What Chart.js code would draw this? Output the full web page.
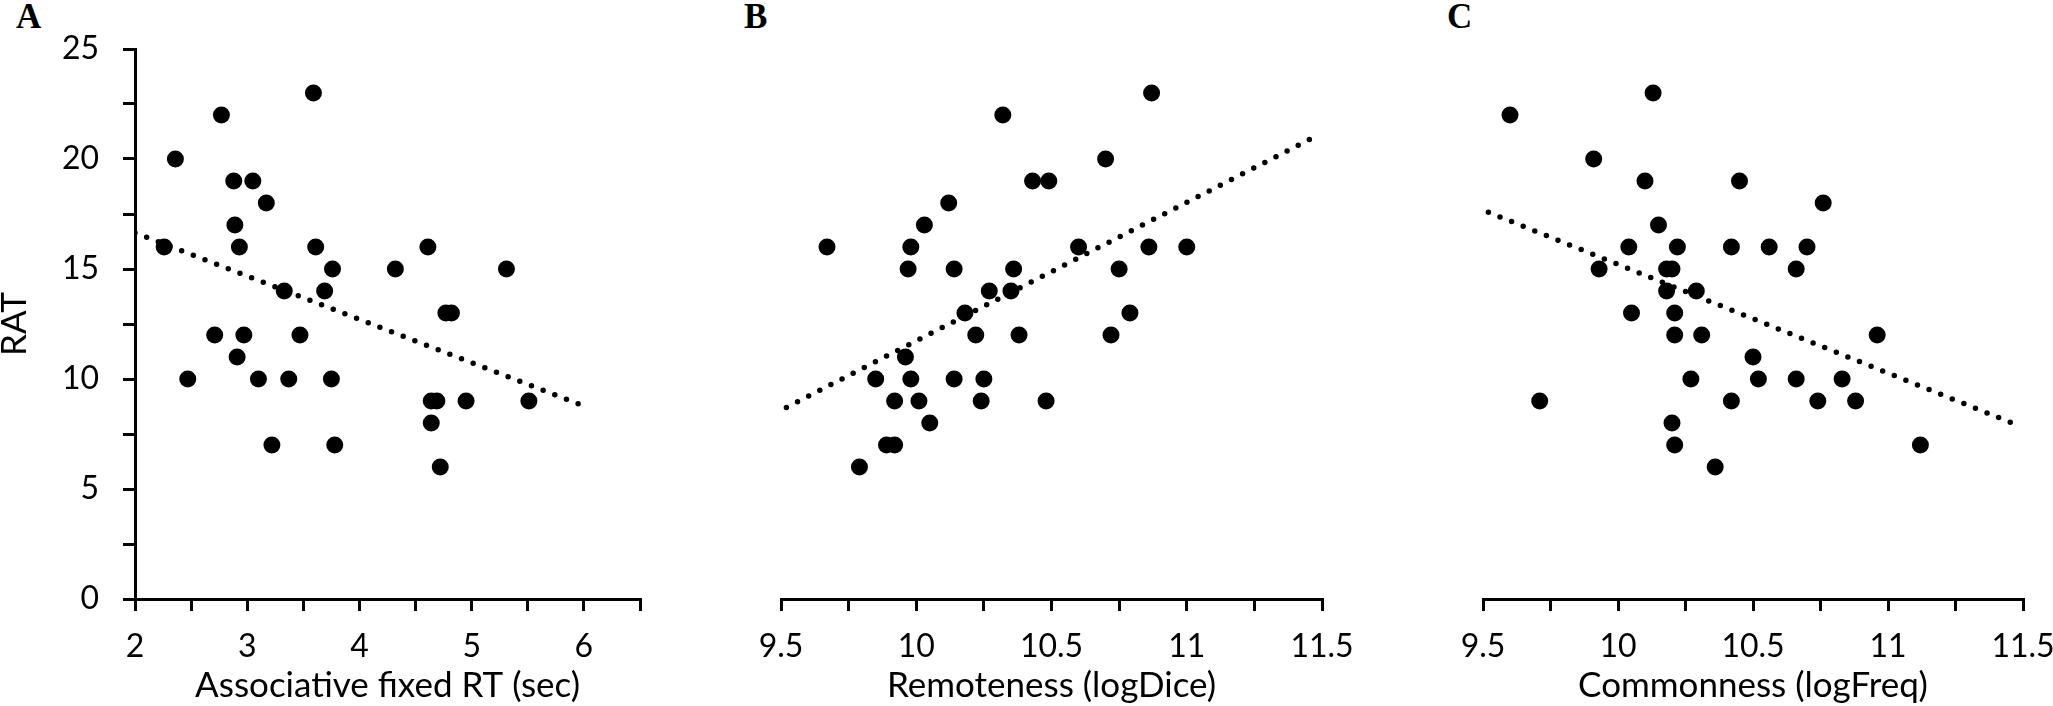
<!DOCTYPE html>
<html>
<head>
<meta charset="utf-8">
<script src="https://cdn.jsdelivr.net/npm/chart.js@4.4.1/dist/chart.umd.min.js"></script>
<style>
html,body{margin:0;padding:0;background:#fff;width:2053px;height:706px;overflow:hidden;position:relative}
canvas{position:absolute;top:0}
.lbl{position:absolute;top:-1px;font:bold 35px "Liberation Serif","Times New Roman",serif;line-height:1;color:#000}
</style>
</head>
<body>
<div class="lbl" style="left:16px">A</div>
<div class="lbl" style="left:744px">B</div>
<div class="lbl" style="left:1447px">C</div>
<canvas id="cA" width="680" height="706" style="left:0"></canvas>
<canvas id="cB" width="680" height="706" style="left:700px"></canvas>
<canvas id="cC" width="700" height="706" style="left:1400px"></canvas>
<script>
// Panel A: associative fixed RT vs RAT
const rtX  = [3.59,2.77,2.36,2.88,3.05,3.17,2.89,2.26,2.93,3.61,4.61,3.76,4.32,5.31,3.33,3.69,4.77,4.82,2.71,2.97,3.47,2.91,2.47,3.10,3.37,3.75,4.64,4.69,4.95,5.51,4.64,3.22,3.78,4.72];
const rtY  = [23,22,20,19,19,18,17,16,16,16,16,15,15,15,14,14,13,13,12,12,12,11,10,10,10,10,9,9,9,9,8,7,7,6];
const rtTrendX = [2, 6];
const rtTrendY = [16.65, 8.77];

// Panel B: remoteness (logDice) vs RAT
const remX = [10.87,10.32,10.70,10.43,10.49,10.12,10.03,9.67,9.98,10.60,10.86,11.00,9.97,10.14,10.36,10.75,10.27,10.35,10.18,10.79,10.22,10.38,10.72,9.96,9.85,9.98,10.14,10.25,9.92,10.01,10.24,10.48,10.05,9.89,9.92,9.79];
const remY = [23,22,20,19,19,18,17,16,16,16,16,16,15,15,15,15,14,14,13,13,12,12,12,11,10,10,10,10,9,9,9,9,8,7,7,6];
const remTrendX = [9.52, 11.48];
const remTrendY = [8.71, 21.05];

// Panel C: commonness (logFreq) vs RAT
const comX = [10.13,9.60,9.91,10.10,10.45,10.76,10.15,10.04,10.22,10.42,10.56,10.70,9.93,10.18,10.20,10.66,10.18,10.29,10.05,10.21,10.21,10.31,10.96,10.50,10.27,10.52,10.66,10.83,9.71,10.42,10.74,10.88,10.20,10.21,11.12,10.36];
const comY = [23,22,20,19,19,18,17,16,16,16,16,16,15,15,15,15,14,14,13,13,12,12,12,11,10,10,10,10,9,9,9,9,8,7,7,6];
const comTrendX = [9.52, 11.47];
const comTrendY = [17.58, 7.95];

const FONT = 'Lato';
const pts = (xs, ys) => xs.map((x, i) => ({x, y: ys[i]}));

function xAxis(min, max, step, every, title){
  return {
    type:'linear', min, max,
    ticks:{stepSize:step, autoSkip:false, maxRotation:0, padding:16, color:'#000', font:{family:FONT, size:32},
      callback:v=>Math.abs(v/every - Math.round(v/every)) < 1e-6 ? String(+v.toFixed(2)) : ''},
    grid:{drawOnChartArea:false, drawTicks:true, tickLength:12, lineWidth:3, tickWidth:3, tickColor:'#000', color:'#000'},
    border:{display:true, color:'#000', width:3},
    title:{display:true, text:title, color:'#000', font:{family:FONT, size:35, lineHeight:1}, padding:{top:0, bottom:3}},
    afterFit:s=>{ s.height = 107 }
  };
}

function yAxis(show){
  if(!show) return {type:'linear', min:0, max:25, display:false};
  return {
    type:'linear', min:0, max:25,
    ticks:{stepSize:2.5, autoSkip:false, padding:24, color:'#000', font:{family:FONT, size:32},
      callback:v=>v % 5 === 0 ? String(v) : ''},
    grid:{drawOnChartArea:false, drawTicks:true, tickLength:12, lineWidth:3, tickWidth:3, tickColor:'#000', color:'#000'},
    border:{display:true, color:'#000', width:3},
    title:{display:true, text:'RAT', color:'#000', font:{family:FONT, size:35, lineHeight:1}, padding:{top:-3, bottom:0}},
    afterFit:s=>{ s.width = 135 }
  };
}

function panel(id, xs, ys, tx, ty, x, y, pad){
  return new Chart(document.getElementById(id), {
    type:'scatter',
    data:{datasets:[
      {data:pts(xs, ys), backgroundColor:'#000', borderWidth:0, pointRadius:8.5, pointHoverRadius:8.5},
      {data:pts(tx, ty), showLine:true, borderColor:'#000', borderWidth:5.5, borderDash:[0, 12.5],
       borderCapStyle:'round', pointRadius:0, fill:false}
    ]},
    options:{
      responsive:false, animation:false, devicePixelRatio:1,
      layout:{padding:pad},
      scales:{x, y},
      plugins:{legend:{display:false}, tooltip:{enabled:false}}
    }
  });
}

panel('cA', rtX, rtY, rtTrendX, rtTrendY,
  xAxis(2, 6.5, 0.5, 1, 'Associative fixed RT (sec)'), yAxis(true),
  {top:49, right:40, bottom:0, left:0});
panel('cB', remX, remY, remTrendX, remTrendY,
  xAxis(9.5, 11.5, 0.25, 0.5, 'Remoteness (logDice)'), yAxis(false),
  {top:49, right:58, bottom:0, left:81});
panel('cC', comX, comY, comTrendX, comTrendY,
  xAxis(9.5, 11.5, 0.25, 0.5, 'Commonness (logFreq)'), yAxis(false),
  {top:49, right:77, bottom:0, left:83});
</script>
</body>
</html>
